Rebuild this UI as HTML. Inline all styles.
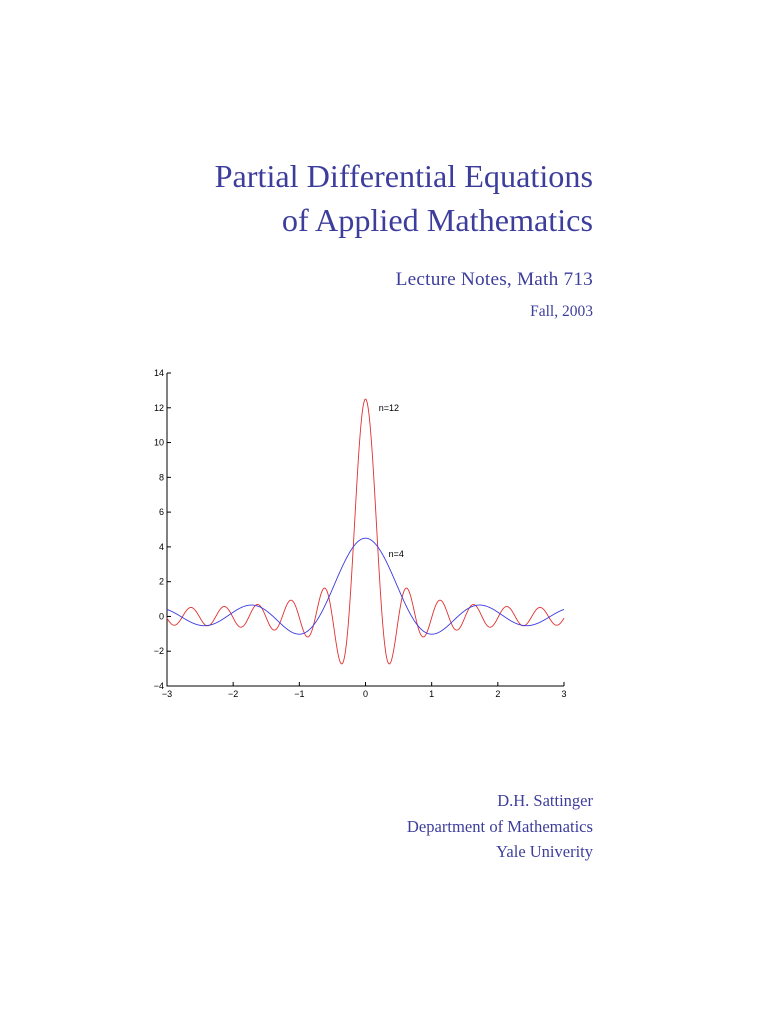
<!DOCTYPE html>
<html><head><meta charset="utf-8"><style>
body{margin:0;width:768px;height:1024px;background:#fff;position:relative;overflow:hidden;font-family:"Liberation Serif",serif;color:#3d3d9c}
.r{position:absolute;right:175px;white-space:nowrap;text-align:right}
</style></head><body>
<div class="r" style="top:158px;font-size:32.2px">Partial Differential Equations</div>
<div class="r" style="top:202px;font-size:32.2px">of Applied Mathematics</div>
<div class="r" style="top:269px;font-size:19.3px;letter-spacing:0.2px">Lecture Notes, Math 713</div>
<div class="r" style="top:303px;font-size:15.5px">Fall, 2003</div>
<div class="r" style="top:791px;font-size:16.5px">D.H. Sattinger</div>
<div class="r" style="top:817px;font-size:16.6px">Department of Mathematics</div>
<div class="r" style="top:842px;font-size:16.5px">Yale Univerity</div>
<svg id="chart" width="768" height="1024" style="position:absolute;left:0;top:0" font-family="Liberation Sans, sans-serif" font-size="9"></svg>
<script>
const xTicks=[-3,-2,-1,0,1,2,3];
const xTickLabels=["\u22123","\u22122","\u22121","0","1","2","3"];
const yTicks=[-4,-2,0,2,4,6,8,10,12,14];
const yTickLabels=["\u22124","\u22122","0","2","4","6","8","10","12","14"];
const seriesOrders=[12,4];
const seriesColors=["#e03030","#3a3ae0"];
const seriesLabels=["n=12","n=4"];
const labelX=[0.2,0.35];
const labelY=[12.0,3.6];
const X0=167,X1=564,Y0=686,Y1=373;
const sx=v=>X0+(v+3)/6*(X1-X0);
const sy=v=>Y0-(v+4)/18*(Y0-Y1);
const svg=document.getElementById('chart');
const NS='http://www.w3.org/2000/svg';
function mk(t,a){const e=document.createElementNS(NS,t);for(const k in a)e.setAttribute(k,a[k]);svg.appendChild(e);return e;}
const ax=mk('path',{d:`M${X0},${Y1}V${Y0}H${X1}`,stroke:'#000',fill:'none','stroke-width':1});


xTicks.forEach((v,i)=>{
 const t=mk('line',{x1:sx(v),x2:sx(v),y1:Y0,y2:Y0-4,stroke:'#000'});
 
 
 const l=mk('text',{x:sx(v),y:Y0+11,'text-anchor':'middle'});l.textContent=xTickLabels[i];
 
 
});
yTicks.forEach((v,i)=>{
 const t=mk('line',{x1:X0,x2:X0+4,y1:sy(v),y2:sy(v),stroke:'#000'});
 
 
 const l=mk('text',{x:X0-3,y:sy(v)+3,'text-anchor':'end'});l.textContent=yTickLabels[i];
 
 
});
seriesOrders.forEach((n,s)=>{
 let d='';
 for(let i=0;i<=1200;i++){const x=-3+6*i/1200;const y=Math.abs(x)<1e-9?n+0.5:Math.sin((n+0.5)*x)/(2*Math.sin(x/2));d+=(i?'L':'M')+sx(x).toFixed(2)+','+sy(y).toFixed(2);}
 const p=mk('path',{d:d,stroke:seriesColors[s],fill:'none','stroke-width':0.9});
 
 
 const l=mk('text',{x:sx(labelX[s]),y:sy(labelY[s])+3});l.textContent=seriesLabels[s];
 
 
});
</script>
</body></html>
